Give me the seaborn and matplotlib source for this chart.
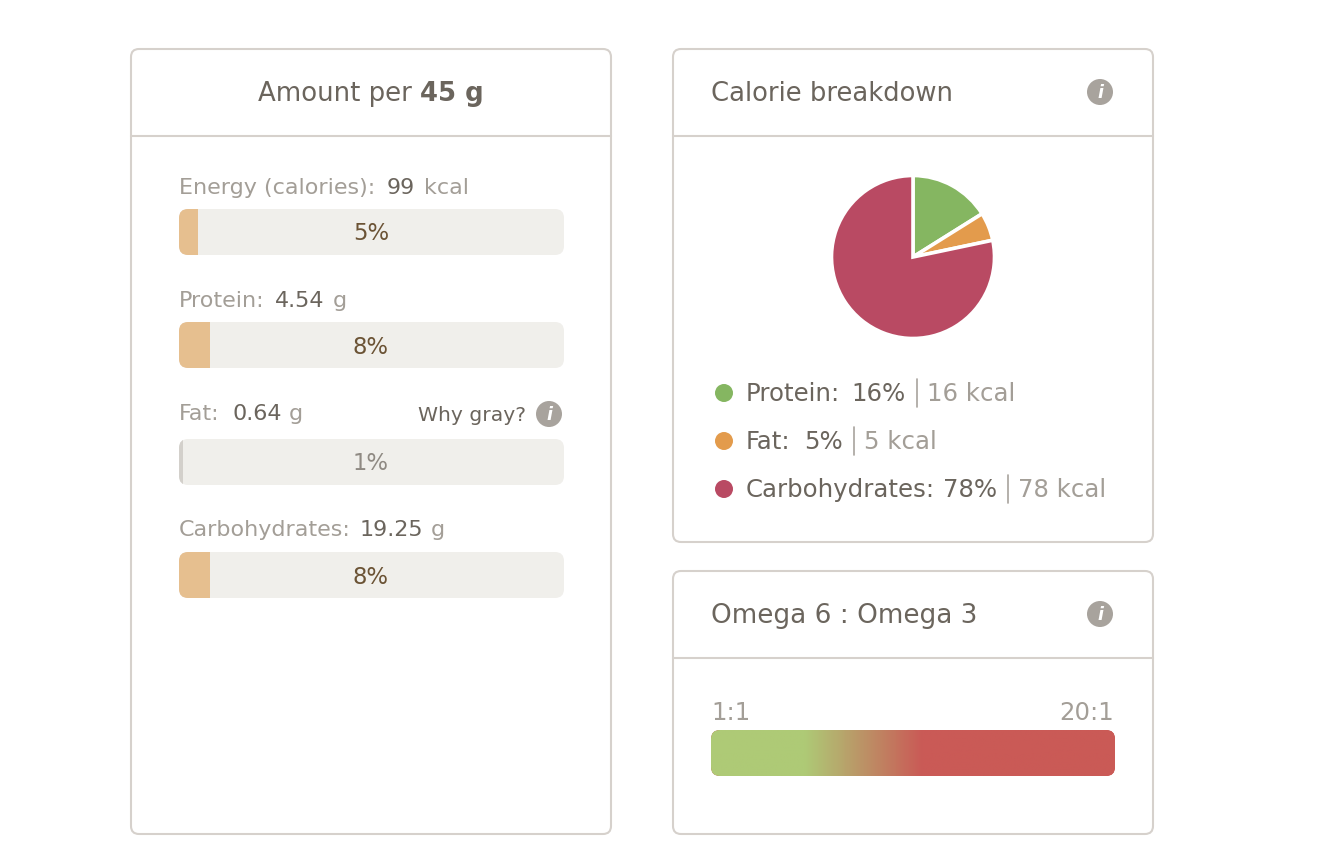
import numpy as np
import pandas as pd
import matplotlib.pyplot as plt
import seaborn as sns
from matplotlib.colors import ListedColormap
from matplotlib.patches import FancyBboxPatch, Circle

nutrients = ['Energy (calories):', 'Protein:', 'Fat:', 'Carbohydrates:']
amounts = ['99', '4.54', '0.64', '19.25']
units = ['kcal', 'g', 'g', 'g']
daily_pct = [5, 8, 1, 8]

pie_names = ['Protein:', 'Fat:', 'Carbohydrates:']
pie_pct = [16, 5, 78]
pie_kcal = [16, 5, 78]
# unrounded shares
pie_share = [16.1, 5.6, 78.3]

W, H = 1320, 861
GRAY = '#a39e97'
DARK = '#6b655d'
LINE = '#d6d1cc'
TRACK = '#f0efeb'

sns.set_theme(style='white')
plt.rcParams['font.family'] = ['DejaVu Sans']

fig = plt.figure(figsize=(W / 100, H / 100), dpi=100, facecolor='white')

def px_axes(x0, y0, x1, y1, z=1):
    ax = fig.add_axes([x0 / W, 1 - y1 / H, (x1 - x0) / W, (y1 - y0) / H], zorder=z)
    ax.axis('off')
    return ax

# one pixel-sized layer under the charts, one over them for the text
back = px_axes(0, 0, W, H, 0)
back.set_xlim(0, W)
back.set_ylim(H, 0)
top = px_axes(0, 0, W, H, 5)
top.set_xlim(0, W)
top.set_ylim(H, 0)

def rounded(x0, y0, x1, y1, r, fc, ec='none', lw=0):
    p = FancyBboxPatch((x0, y0), x1 - x0, y1 - y0, boxstyle=f'round,pad=0,rounding_size={r}',
                       fc=fc, ec=ec, lw=lw)
    back.add_patch(p)
    return p

def info(x, y, r=13):
    top.add_patch(Circle((x, y), r, fc='#a8a39d', ec='none'))
    top.text(x, y + 0.5, 'i', color='white', fontsize=12.5, fontweight='bold', fontstyle='italic',
             ha='center', va='center')

def label(x, y, s, color=DARK, size=16, **kw):
    top.text(x, y, s, color=color, fontsize=size, va='baseline', **kw)

# panels
for x0, y0, x1, y1, head in [(131, 49, 611, 834, 136), (673, 49, 1153, 542, 136), (673, 571, 1153, 834, 658)]:
    rounded(x0, y0, x1, y1, 8, 'white', LINE, 1.5)
    back.plot([x0, x1], [head, head], color=LINE, lw=1.5)

# left panel
label(258, 101, 'Amount per', size=18.7)
label(420, 101, '45 g', size=18.7, fontweight='bold')

bar_tops = [209, 322, 439, 552]
base_y = [194, 307, 420, 536]
value_x = [387, 275, 232, 360]
unit_x = [424, 333, 289, 431]
for i, name in enumerate(nutrients):
    y0 = bar_tops[i]
    label(179, base_y[i], name, GRAY)
    label(value_x[i], base_y[i], amounts[i])
    label(unit_x[i], base_y[i], units[i], GRAY)

    track = rounded(179, y0, 564, y0 + 46, 9, TRACK)
    ax = px_axes(179, y0, 564, y0 + 46, 2)
    df = pd.DataFrame({'name': [name], 'pct': [daily_pct[i]]})
    grayed = name == 'Fat:'
    sns.barplot(data=df, x='pct', y='name', orient='h', width=1, ax=ax, linewidth=0,
                color='#d3d0cb' if grayed else '#e6bf8f', saturation=1)
    ax.set_xlim(0, 100)
    ax.set_ylim(0.5, -0.5)
    ax.axis('off')
    for bar in ax.patches:
        bar.set_clip_path(track)
    top.text(371, y0 + 31.5, f'{daily_pct[i]}%', color='#8f8a83' if grayed else '#6b5335',
             fontsize=16.4, ha='center', va='baseline')

label(418, 421, 'Why gray?', size=14.6)
info(549, 414)

# calorie breakdown
label(711, 101, 'Calorie breakdown', size=18.6)
info(1100, 92)

pie_colors = ['#85b661', '#e39b4c', '#b94a63']
pie_ax = px_axes(913 - 85, 257 - 85, 913 + 85, 257 + 85, 2)
pie_ax.pie(pie_share, colors=pie_colors, startangle=90, counterclock=False, radius=1,
           wedgeprops={'edgecolor': 'white', 'linewidth': 2.6})
pie_ax.set_xlim(-85 / 81.5, 85 / 81.5)
pie_ax.set_ylim(-85 / 81.5, 85 / 81.5)

legend_y = [393, 441, 489]
sep_x = [917, 854, 1008]
pct_x = [851, 804, 943]
for i, name in enumerate(pie_names):
    y = legend_y[i]
    top.add_patch(Circle((724, y), 9, fc=pie_colors[i], ec='none'))
    label(746, y + 8, name, size=17.6)
    label(pct_x[i], y + 8, f'{pie_pct[i]}%', size=17.6)
    top.plot([sep_x[i], sep_x[i]], [y - 14, y + 14], color='#a8a39d', lw=1.2)
    label(sep_x[i] + 10, y + 8, f'{pie_kcal[i]} kcal', GRAY, size=17.6)

# omega ratio
label(711, 623, 'Omega 6 : Omega 3', size=18.9)
info(1100, 614)
label(711, 720, '1:1', GRAY, size=17.6)
top.text(1114, 720, '20:1', color=GRAY, fontsize=17.6, ha='right', va='baseline')

green_end, red_start = 0.23, 0.525
steps = 400
grad = sns.blend_palette(['#aeca76', '#ca5a56'], 120)
ramp = np.clip((np.linspace(0, 1, steps) - green_end) / (red_start - green_end), 0, 1)
track = rounded(711, 730, 1115, 776, 9, '#ca5a56')
gax = px_axes(711, 730, 1115, 776, 2)
img = gax.imshow(ramp[None, :], aspect='auto', cmap=ListedColormap(grad), vmin=0, vmax=1)
img.set_clip_path(track)

fig.savefig('out.png', dpi=100)
